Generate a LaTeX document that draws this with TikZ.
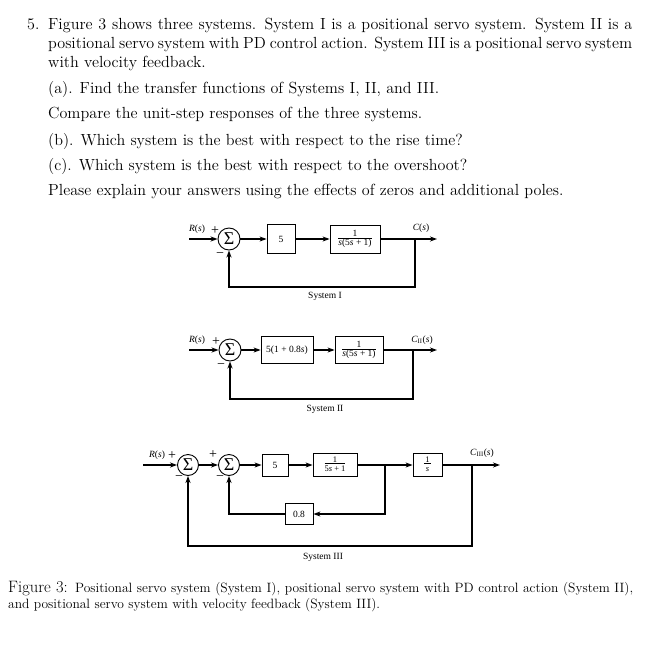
\documentclass[tikz,border=0pt]{standalone}
\usepackage{fontspec}
\newfontfamily\tms{Liberation Serif}
\newfontfamily\lmtwelve{lmroman12-regular.otf}
\usetikzlibrary{arrows.meta}
\newcommand\vi[1]{\textit{#1}}
\newcommand\bodyfnt{\lmtwelve\fontsize{16.1}{19.5}\selectfont}
\newcommand\dg{\tms\fontsize{9.5}{10}\selectfont}
\newcommand\dgs{\tms\fontsize{8.5}{9}\selectfont}
\setlength\arrayrulewidth{0.6pt}
\newcommand\bfr[2]{\begin{tabular}{@{}c@{}}#1\\[-1.5pt]\hline\rule{0pt}{7.5pt}#2\end{tabular}}
\begin{document}
\begin{tikzpicture}[x=1pt,y=-1pt,
  blk/.style={draw, line width=0.8pt, inner sep=0pt, font={\dg}},
  sumc/.style={draw, circle, line width=0.9pt, inner sep=0pt, minimum size=22pt, font={\tms\fontsize{18}{18}\selectfont}},
  lbl/.style={inner sep=0pt, font={\dg}},
  sgn/.style={inner sep=0pt, font={\tms\fontsize{14}{14}\selectfont}},
  wire/.style={line width=1.3pt},
  arr/.style={wire, -{Stealth[length=7pt,width=5pt]}},
  txt/.style={inner sep=0pt, anchor=base west, font={\bodyfnt}}]
\useasboundingbox (0,0) rectangle (667,645);
\fill[white] (0,0) rectangle (667,645);

% question text
\node[txt] (n5) at (27,29) {5.};
\node[txt, text width=584pt, align=justify] (q) at (48,29) {\hyphenpenalty=10000 \hbadness=10000 \hfuzz=20pt Figure 3 shows three systems. System I is a positional servo system. System II is a\linebreak positional servo system with PD control action. System III is a positional servo system\linebreak with velocity feedback.};
\node[txt] (qa) at (48,93) {(a). Find the transfer functions of Systems I, II, and III.};
\node[txt] (qc) at (48,118) {Compare the unit-step responses of the three systems.};
\node[txt] (qb) at (48,145) {(b). Which system is the best with respect to the rise time?};
\node[txt] (qd) at (48,170) {(c). Which system is the best with respect to the overshoot?};
\node[txt] (qe) at (48,195) {Please explain your answers using the effects of zeros and additional poles.};

% caption
\node[txt, text width=625pt, align=justify, font={\fontsize{16.5}{19}\selectfont}] (cap) at (8,592) {Figure 3: {\fontsize{13.5}{16}\selectfont Positional servo system (System I), positional servo system with PD control action (System II),\linebreak and positional servo system with velocity feedback (System III).\par}};

% ---------- System I ----------
\node[sumc] (s1) at (229,239) {Σ};
\node[blk, minimum width=28pt, minimum height=29pt] (b1) at (281,239) {5};
\node[blk, minimum width=50pt, minimum height=28pt] (b2) at (355,239) {\bfr{1}{\vi{s}(5\vi{s} + 1)}};
\coordinate (i1) at (189,239);
\coordinate (p1) at (415,239);
\coordinate (o1) at (437,239);
\coordinate (f1) at (415,287);
\coordinate (g1) at (229,287);
\draw[arr] (i1) -- (s1);
\draw[arr] (s1) -- (b1);
\draw[arr] (b1) -- (b2);
\draw[arr] (b2) -- (o1);
\draw[arr] (p1) -- (f1) -- (g1) -- (s1);
\node[lbl] (r1) at (197,229) {\vi{R}(\vi{s})};
\node[sgn] (pl1) at (215,231) {+};
\node[sgn] (mi1) at (220,255) {−};
\node[lbl] (c1) at (421,228) {\vi{C}(\vi{s})};
\node[lbl] (t1) at (325,296) {System I};

% ---------- System II ----------
\node[sumc] (s2) at (230,350) {Σ};
\node[blk, minimum width=52pt, minimum height=27pt] (b3) at (287,350) {5(1 + 0.8\vi{s})};
\node[blk, minimum width=48pt, minimum height=27pt] (b4) at (359,350) {\bfr{1}{\vi{s}(5\vi{s} + 1)}};
\coordinate (i2) at (189,350);
\coordinate (p2) at (413,350);
\coordinate (o2) at (437,350);
\coordinate (f2) at (413,399);
\coordinate (g2) at (230,399);
\draw[arr] (i2) -- (s2);
\draw[arr] (s2) -- (b3);
\draw[arr] (b3) -- (b4);
\draw[arr] (b4) -- (o2);
\draw[arr] (p2) -- (f2) -- (g2) -- (s2);
\node[lbl] (r2) at (197,340) {\vi{R}(\vi{s})};
\node[sgn] (pl2) at (216,342) {+};
\node[sgn] (mi2) at (221,366) {−};
\node[lbl] (c2) at (422,340) {\vi{C}\textsubscript{II}(\vi{s})};
\node[lbl] (t2) at (325,409) {System II};

% ---------- System III ----------
\node[sumc, minimum size=21pt] (s3) at (188,465) {Σ};
\node[sumc, minimum size=21pt] (s4) at (229,465) {Σ};
\node[blk, minimum width=26pt, minimum height=22pt] (b5) at (275,465) {5};
\node[blk, minimum width=44pt, minimum height=23pt, font={\dgs}] (b6) at (335,465) {\bfr{1}{5\vi{s} + 1}};
\node[blk, minimum width=29pt, minimum height=23pt, font={\dgs}] (b7) at (427.5,465) {\bfr{\,1\,}{\vi{s}}};
\node[blk, minimum width=28pt, minimum height=21pt] (b8) at (299,514) {0.8};
\coordinate (i3) at (143,465);
\coordinate (p3) at (385,465);
\coordinate (q3) at (385,514);
\coordinate (h3) at (229,514);
\coordinate (p4) at (472,465);
\coordinate (o3) at (500,465);
\coordinate (f3) at (472,546);
\coordinate (g3) at (188,546);
\draw[arr] (i3) -- (s3);
\draw[arr] (s3) -- (s4);
\draw[arr] (s4) -- (b5);
\draw[arr] (b5) -- (b6);
\draw[arr] (b6) -- (b7);
\draw[arr] (b7) -- (o3);
\draw[arr] (p3) -- (q3) -- (b8);
\draw[arr] (b8) -- (h3) -- (s4);
\draw[arr] (p4) -- (f3) -- (g3) -- (s3);
\node[lbl] (r3) at (157,455) {\vi{R}(\vi{s})};
\node[sgn] (pl3) at (172,456) {+};
\node[sgn] (mi3) at (179,478) {−};
\node[sgn] (pl4) at (213,455) {+};
\node[sgn] (mi4) at (220,478) {−};
\node[lbl] (c3) at (482,453) {\vi{C}\textsubscript{III}(\vi{s})};
\node[lbl] (t3) at (323,557) {System III};
\end{tikzpicture}
\end{document}
